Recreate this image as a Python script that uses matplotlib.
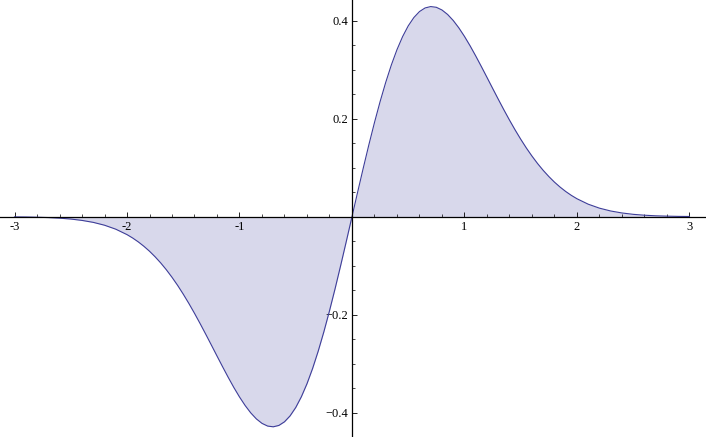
import matplotlib
matplotlib.use("Agg")
import matplotlib.pyplot as plt
from matplotlib.ticker import MultipleLocator, FixedLocator

x_pos = [0.05, 0.10, 0.15, 0.20, 0.25, 0.30, 0.35, 0.40, 0.45, 0.50,
         0.55, 0.60, 0.65, 0.70, 0.75, 0.80, 0.85, 0.90, 0.95, 1.00,
         1.05, 1.10, 1.15, 1.20, 1.25, 1.30, 1.35, 1.40, 1.45, 1.50,
         1.55, 1.60, 1.65, 1.70, 1.75, 1.80, 1.85, 1.90, 1.95, 2.00,
         2.1, 2.2, 2.3, 2.4, 2.5, 2.6, 2.7, 2.8, 2.9, 3.0]
y_pos = [0.0499, 0.0990, 0.1467, 0.1922, 0.2349, 0.2742, 0.3097, 0.3409, 0.3675, 0.3894,
         0.4064, 0.4186, 0.4260, 0.4288, 0.4273, 0.4218, 0.4127, 0.4004, 0.3853, 0.3679,
         0.3487, 0.3280, 0.3064, 0.2843, 0.2620, 0.2399, 0.2182, 0.1972, 0.1771, 0.1581,
         0.1402, 0.1237, 0.1084, 0.0945, 0.0819, 0.0705, 0.0604, 0.0514, 0.0435, 0.0366,
         0.0255, 0.0174, 0.0116, 0.0076, 0.0048, 0.0030, 0.0018, 0.0011, 0.0006, 0.0004]

x_vals = [-v for v in reversed(x_pos)] + [0.0] + x_pos
y_vals = [-v for v in reversed(y_pos)] + [0.0] + y_pos

x_major = [-3, -2, -1, 1, 2, 3]
x_labels = ["-3", "-2", "-1", "1", "2", "3"]
y_major = [-0.4, -0.2, 0.2, 0.4]
y_labels = ["\u22120.4", "\u22120.2", "0.2", "0.4"]

line_color = (0.24, 0.24, 0.60)
fill_color = (0.848, 0.848, 0.92)

fig = plt.figure(figsize=(7.06, 4.37), dpi=100)
ax = fig.add_axes([0, 0, 1, 1])
ax.set_xlim(-3.129, 3.147)
ax.set_ylim(-0.4496, 0.4422)

ax.fill_between(x_vals, y_vals, 0, color=fill_color, linewidth=0, zorder=1)
ax.plot(x_vals, y_vals, color=line_color, linewidth=0.8, zorder=2)

for s in ["top", "right"]:
    ax.spines[s].set_visible(False)
ax.spines["left"].set_position(("data", 0))
ax.spines["bottom"].set_position(("data", 0))
for s in ["left", "bottom"]:
    ax.spines[s].set_linewidth(0.9)
    ax.spines[s].set_zorder(3)

ax.xaxis.set_major_locator(FixedLocator(x_major))
ax.set_xticklabels(x_labels)
ax.xaxis.set_minor_locator(MultipleLocator(0.2))
ax.yaxis.set_major_locator(FixedLocator(y_major))
ax.set_yticklabels(y_labels)
ax.yaxis.set_minor_locator(MultipleLocator(0.05))

ax.tick_params(axis="both", which="major", direction="in", length=3.5, width=0.6,
               labelsize=9, pad=3)
ax.tick_params(axis="both", which="minor", direction="in", length=2, width=0.5)
for lab in ax.get_xticklabels() + ax.get_yticklabels():
    lab.set_family("Liberation Serif")

fig.savefig("out.png", dpi=100)
